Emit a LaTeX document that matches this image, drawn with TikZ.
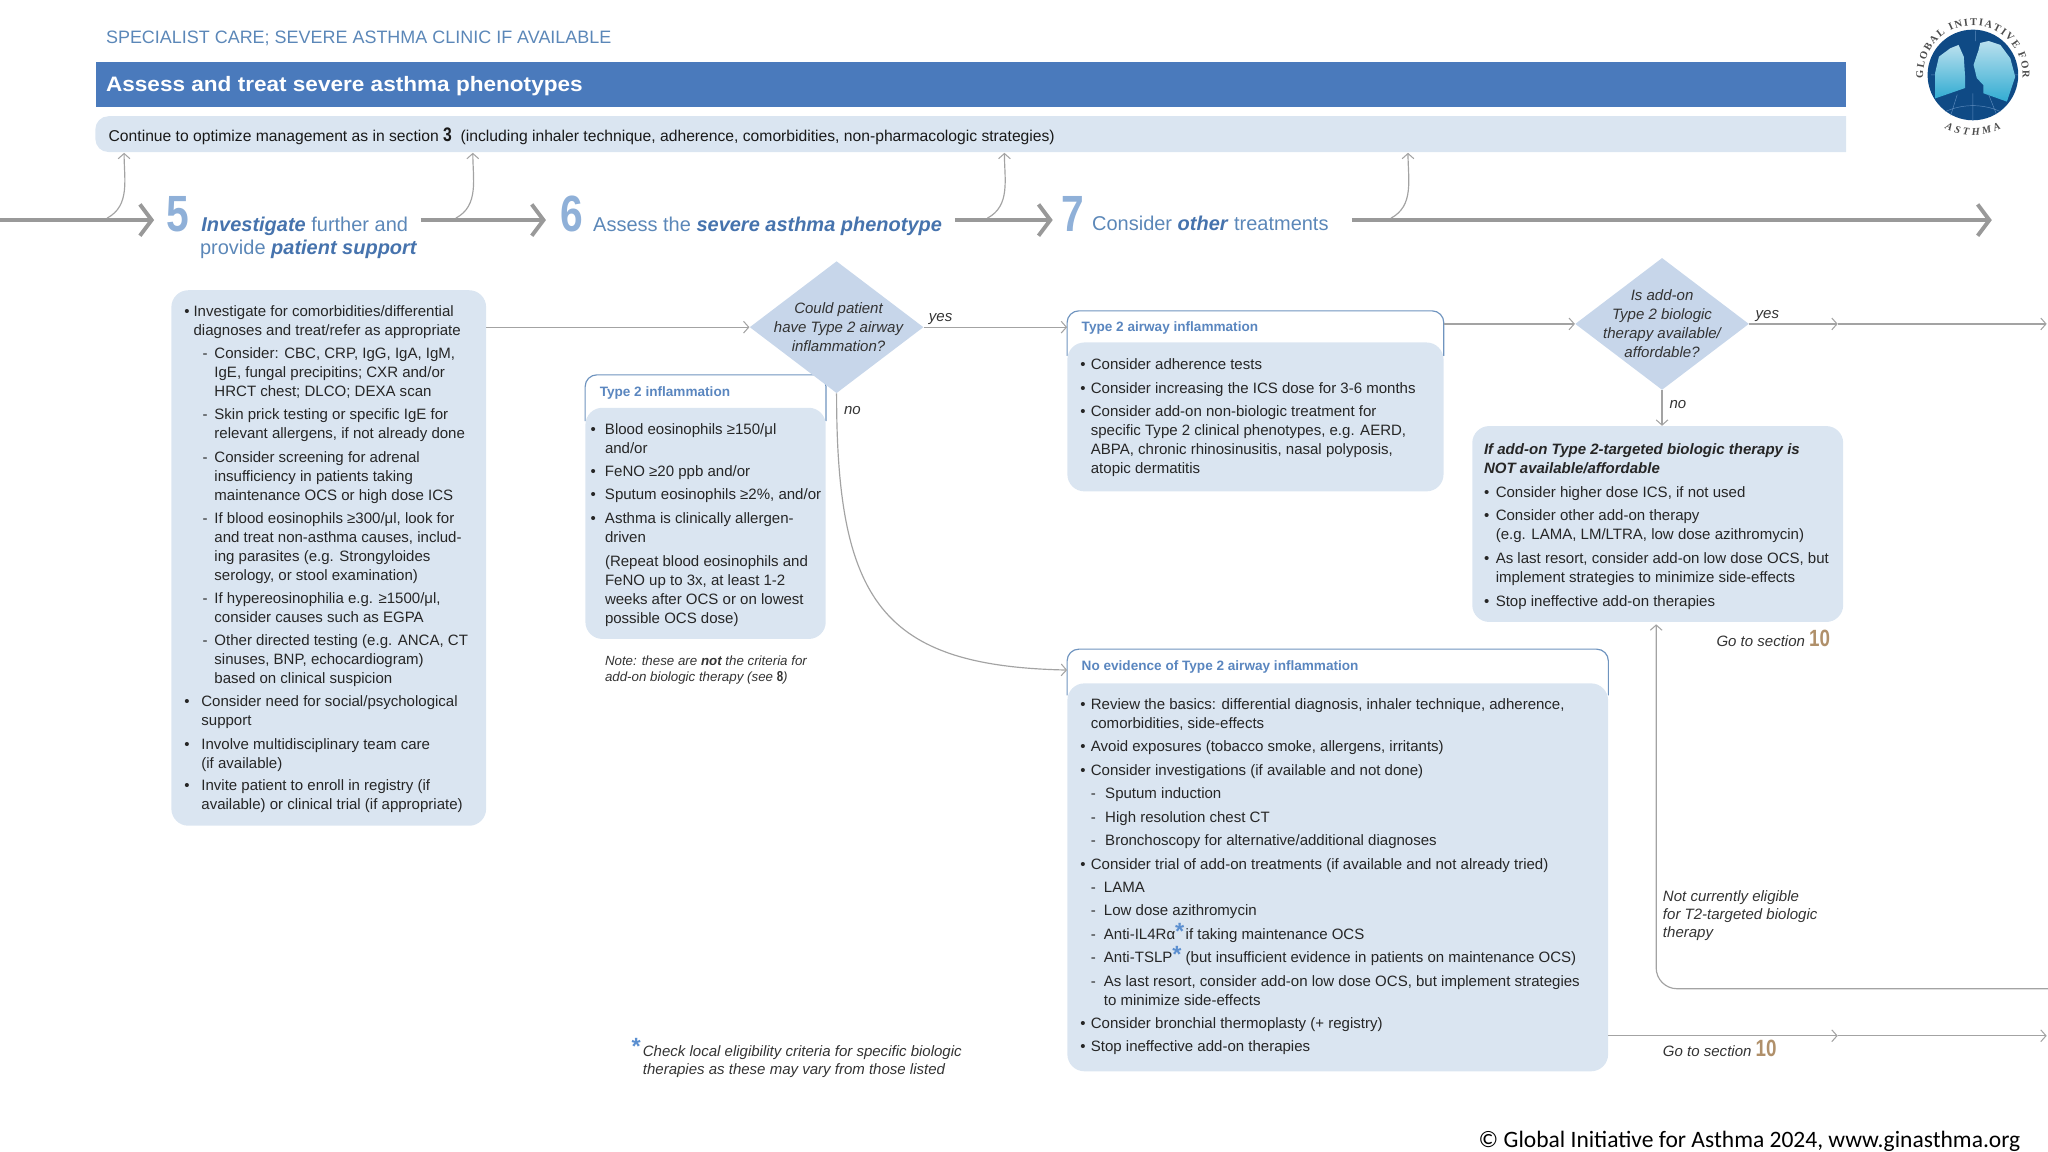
\documentclass[tikz,border=0pt]{standalone}
\usepackage{fontspec}
\setmainfont{Liberation Sans}
\newfontfamily\logofont{Liberation Serif}
\newfontfamily\footfont{Carlito}
\usetikzlibrary{arrows.meta,calc,positioning,shapes.geometric,decorations.text}
\definecolor{headblue}{HTML}{4A7ABC}
\definecolor{softblue}{HTML}{5B87B8}
\definecolor{deepblue}{HTML}{4673AD}
\definecolor{titleblue}{HTML}{5A86BF}
\definecolor{starblue}{HTML}{5B8FD0}
\definecolor{numblue}{HTML}{8FB0D8}
\definecolor{panelblue}{HTML}{DAE5F1}
\definecolor{diamondblue}{HTML}{C7D6EA}
\definecolor{framblue}{HTML}{6F94BF}
\definecolor{flowgrey}{HTML}{A3A3A3}
\definecolor{thickgrey}{HTML}{999999}
\definecolor{sectbrown}{HTML}{B0906A}
\definecolor{globeblue}{HTML}{0F4A85}
\definecolor{globeline}{HTML}{5C8BBD}
\definecolor{lungtop}{HTML}{B9E0EE}
\definecolor{lungbot}{HTML}{32ACD2}
\newcommand{\bodyfont}{\fontsize{11.5}{14.5}\selectfont}
\newcommand{\bull}[1]{\makebox[#1][l]{\textbullet}}
\newcommand{\dsh}[2]{\hspace*{#1}\makebox[#2][l]{-}}
\newcommand{\ind}[1]{\hspace*{#1}}
\newcommand{\hl}[1]{\textcolor{deepblue}{\textbf{\textit{#1}}}}
\newcommand{\sectnum}[2]{{\fontsize{#1}{#1}\selectfont\bfseries\scalebox{.8}[1]{#2}}}
\newcommand{\blustar}{\smash{\textcolor{starblue}{\fontsize{18}{18}\selectfont\bfseries *}}}
\tikzset{
	panel/.style={fill=panelblue, rounded corners=13pt, anchor=north west, inner sep=0pt},
	frame box/.style={anchor=north west, inner sep=0pt,
		prefix after command={\pgfextra{\let\fixname\tikzlastnode}},
		append after command={\pgfextra{\draw[draw=framblue, line width=.9pt, rounded corners=9pt]
			(\fixname.south west) -- (\fixname.north west) -- (\fixname.north east) -- (\fixname.south east);}}},
	frame title/.style={font=\fontsize{10.4}{13}\selectfont\bfseries, text=titleblue, anchor=west, inner sep=0pt},
	body/.style={font=\bodyfont, text=black!85, align=left, anchor=north west, inner sep=0pt},
	query/.style={diamond, fill=diamondblue, inner sep=0pt, minimum width=133pt, minimum height=101pt},
	query text/.style={font=\fontsize{11.5}{14.5}\selectfont\itshape, text=black!80, align=center, inner sep=0pt},
	step num/.style={font=\fontsize{39}{39}\selectfont\bfseries, text=numblue, inner sep=0pt},
	step text/.style={font=\fontsize{15.3}{18}\selectfont, text=softblue, align=left, anchor=west, inner sep=0pt},
	note/.style={font=\fontsize{11.5}{14}\selectfont\itshape, text=black!80, align=left, anchor=west, inner sep=0pt},
	small note/.style={font=\fontsize{10.2}{12}\selectfont\itshape, text=black!80, align=left, anchor=west, inner sep=0pt},
	flow/.style={draw=flowgrey, line width=.9pt, -{Straight Barb[length=4pt,width=9pt,line width=.8pt]}},
	main flow/.style={draw=thickgrey, line width=3.6pt, -{Straight Barb[length=9pt,width=24pt,line width=3pt]}},
}
\begin{document}
\begin{tikzpicture}[x=1pt, y=-1pt]
	\useasboundingbox (0,0) rectangle (1568,882);
	\node[font=\fontsize{13.75}{17}\selectfont, text=softblue, anchor=west, inner sep=0pt] (level) at (81,29.5) {SPECIALIST CARE; SEVERE ASTHMA CLINIC IF AVAILABLE};
	\node[fill=headblue, minimum width=1340pt, minimum height=35pt, anchor=north west, inner sep=0pt] (headbar) at (73,47) {};
	\node[font=\fontsize{16}{18}\selectfont\bfseries, text=white, anchor=west, inner sep=0pt] (headtext) at (81,66) {\scalebox{1.08}[1]{Assess and treat severe asthma phenotypes}};
	\node[minimum width=1340pt, minimum height=27pt, anchor=north west, inner sep=0pt] (optbar) at (73,89) {};
	\fill[panelblue] (optbar.north east) {[rounded corners=10pt] -- (optbar.north west) -- (optbar.south west)} -- (optbar.south east) -- cycle;
	\node[font=\fontsize{12}{14.5}\selectfont, text=black!90, anchor=west, inner sep=0pt] (opttext) at (83,104) {Continue to optimize management as in section \sectnum{15}{3}\ \ (including inhaler technique, adherence, comorbidities, non-pharmacologic strategies)};

	\node[step num] (stepfive) at (136.5,164) {\scalebox{.8}[1]{5}};
	\node[step num] (stepsix) at (438,164) {\scalebox{.8}[1]{6}};
	\node[step num] (stepseven) at (821.5,164) {\scalebox{.8}[1]{7}};
	\node[step text] (fivetext) at (153,182) {\hspace{1pt}\hl{Investigate} further and\\provide \hl{patient support}};
	\node[step text] (sixtext) at (454,173) {Assess the \hl{severe asthma phenotype}};
	\node[step text] (seventext) at (836,171) {Consider \hl{other} treatments};

	\foreach \nm/\xa/\xb in {a/0/118, b/322/418, c/731/806, d/1035/1525}
		\draw[main flow] (\xa,168.5) coordinate (flow\nm) -- (\xb,168.5) coordinate (flow\nm');
	\foreach \nm/\xa in {a/82, b/349, c/756, d/1065}
		\draw[flow] (\xa,167) coordinate (rise\nm) to[out=28,in=-90] (\xa+13,117) coordinate (rise\nm');

	% boxes
	\node[panel, minimum width=241pt, minimum height=410pt] (investbox) at (131,222) {};
	\node[frame box, minimum width=184pt, minimum height=35pt] (typetwoframe) at (448,287) {};
	\node[panel, minimum width=184pt, minimum height=177pt] (typetwobox) at (448,312) {};
	\node[frame box, minimum width=288pt, minimum height=34pt] (airwayframe) at (817,238) {};
	\node[panel, minimum width=288pt, minimum height=114pt] (airwaybox) at (817,262) {};
	\node[frame box, minimum width=414pt, minimum height=35pt] (noevframe) at (817,497) {};
	\node[panel, minimum width=414pt, minimum height=297pt] (noevbox) at (817,523) {};
	\node[panel, minimum width=284pt, minimum height=150pt] (lastbox) at (1127,326) {};
	\node[query] (querytwo) at (640.5,250.5) {};
	\node[query] (querybio) at (1272.5,248) {};

	% connectors
	\coordinate (noevin) at (817,513);
	\draw[flow] (investbox.east |- querytwo) -- (querytwo.west);
	\draw[flow] (querytwo.east) -- (querytwo.east -| airwayframe.west);
	\draw[flow] (querytwo.south) .. controls +(0,159) and +(-142,-3) .. (noevin);
	\draw[flow] (airwayframe.east |- querybio) -- (querybio.west);
	\draw[flow] (querybio.east) -- (1407,248) coordinate (yesmid);
	\draw[flow] (yesmid) -- (1567,248) coordinate (yesend);
	\draw[flow] (querybio.south) -- (querybio.south |- lastbox.north);
	\draw[flow] (noevbox.east |- 0,793) coordinate (noevout) -- (1407,793) coordinate (outmid);
	\draw[flow] (outmid) -- (1567,793) coordinate (outend);
	\draw[flow, rounded corners=16pt] (1568,757) coordinate (eligin) -- (1268,757) -- (1268,478) coordinate (eligout);

	% texts
	\node[body] (investtext) at (141,234) {\bull{7pt}Investigate for comorbidities/differential\\
		\ind{7pt}diagnoses and treat/refer as appropriate\\[3pt]
		\dsh{14pt}{9pt}Consider: CBC, CRP, IgG, IgA, IgM,\\
		\ind{23pt}IgE, fungal precipitins; CXR and/or\\
		\ind{23pt}HRCT chest; DLCO; DEXA scan\\[3.5pt]
		\dsh{14pt}{9pt}Skin prick testing or specific IgE for\\
		\ind{23pt}relevant allergens, if not already done\\[3.5pt]
		\dsh{14pt}{9pt}Consider screening for adrenal\\
		\ind{23pt}insufficiency in patients taking\\
		\ind{23pt}maintenance OCS or high dose ICS\\[3.5pt]
		\dsh{14pt}{9pt}If blood eosinophils ≥300/μl, look for\\
		\ind{23pt}and treat non-asthma causes, includ-\\
		\ind{23pt}ing parasites (e.g. Strongyloides\\
		\ind{23pt}serology, or stool examination)\\[3pt]
		\dsh{14pt}{9pt}If hypereosinophilia e.g. ≥1500/μl,\\
		\ind{23pt}consider causes such as EGPA\\[3pt]
		\dsh{14pt}{9pt}Other directed testing (e.g. ANCA, CT\\
		\ind{23pt}sinuses, BNP, echocardiogram)\\
		\ind{23pt}based on clinical suspicion\\[3.5pt]
		\bull{13pt}Consider need for social/psychological\\
		\ind{13pt}support\\[3.5pt]
		\bull{13pt}Involve multidisciplinary team care\\
		\ind{13pt}(if available)\\[3pt]
		\bull{13pt}Invite patient to enroll in registry (if\\
		\ind{13pt}available) or clinical trial (if appropriate)};
	\node[frame title] (typetwotitle) at (459,300.5) {Type 2 inflammation};
	\node[body] (typetwotext) at (452,324) {\bull{11pt}Blood eosinophils ≥150/μl\\
		\ind{11pt}and/or\\[3pt]
		\bull{11pt}FeNO ≥20 ppb and/or\\[3.5pt]
		\bull{11pt}Sputum eosinophils ≥2\%, and/or\\[3.5pt]
		\bull{11pt}Asthma is clinically allergen-\\
		\ind{11pt}driven\\[4pt]
		\ind{11pt}(Repeat blood eosinophils and\\
		\ind{11pt}FeNO up to 3x, at least 1-2\\
		\ind{11pt}weeks after OCS or on lowest\\
		\ind{11pt}possible OCS dose)};
	\node[small note] (typetwonote) at (463,513) {Note: these are \textbf{not} the criteria for\\add-on biologic therapy (see \textup{\sectnum{11}{8}})};
	\node[frame title] (airwaytitle) at (828,251) {Type 2 airway inflammation};
	\node[body] (airwaytext) at (827,274.5) {\bull{8pt}Consider adherence tests\\[3.5pt]
		\bull{8pt}Consider increasing the ICS dose for 3-6 months\\[3.5pt]
		\bull{8pt}Consider add-on non-biologic treatment for\\
		\ind{8pt}specific Type 2 clinical phenotypes, e.g. AERD,\\
		\ind{8pt}ABPA, chronic rhinosinusitis, nasal polyposis,\\
		\ind{8pt}atopic dermatitis};
	\node[frame title] (noevtitle) at (828,511) {No evidence of Type 2 airway inflammation};
	\node[body] (noevtext) at (827,534.5) {\bull{8pt}Review the basics: differential diagnosis, inhaler technique, adherence,\\
		\ind{8pt}comorbidities, side-effects\\[3.5pt]
		\bull{8pt}Avoid exposures (tobacco smoke, allergens, irritants)\\[3.5pt]
		\bull{8pt}Consider investigations (if available and not done)\\[3.5pt]
		\dsh{8pt}{11pt}Sputum induction\\[3.5pt]
		\dsh{8pt}{11pt}High resolution chest CT\\[3.5pt]
		\dsh{8pt}{11pt}Bronchoscopy for alternative/additional diagnoses\\[3.5pt]
		\bull{8pt}Consider trial of add-on treatments (if available and not already tried)\\[3pt]
		\dsh{8pt}{10pt}LAMA\\[3.5pt]
		\dsh{8pt}{10pt}Low dose azithromycin\\[3.5pt]
		\dsh{8pt}{10pt}Anti-IL4Rα\blustar\hspace{1pt}if taking maintenance OCS\\[3.5pt]
		\dsh{8pt}{10pt}Anti-TSLP\blustar\ (but insufficient evidence in patients on maintenance OCS)\\[3.5pt]
		\dsh{8pt}{10pt}As last resort, consider add-on low dose OCS, but implement strategies\\
		\ind{18pt}to minimize side-effects\\[3.5pt]
		\bull{8pt}Consider bronchial thermoplasty (+ registry)\\[3pt]
		\bull{8pt}Stop ineffective add-on therapies};
	\node[body] (lasttext) at (1136,339.5) {\textbf{\textit{If add-on Type 2-targeted biologic therapy is}}\\
		\textbf{\textit{NOT available/affordable}}\\[3.5pt]
		\bull{9pt}Consider higher dose ICS, if not used\\[3.5pt]
		\bull{9pt}Consider other add-on therapy\\
		\ind{9pt}(e.g. LAMA, LM/LTRA, low dose azithromycin)\\[4pt]
		\bull{9pt}As last resort, consider add-on low dose OCS, but\\
		\ind{9pt}implement strategies to minimize side-effects\\[3.5pt]
		\bull{9pt}Stop ineffective add-on therapies};

	\node[query text] (querytwotext) at ($(querytwo)+(1.5,0)$) {Could patient\\have Type 2 airway\\inflammation?};
	\node[query text] (querybiotext) at (querybio) {Is add-on\\Type 2 biologic\\therapy available/\\affordable?};
	\node[note] (yesone) at (711,244) {yes};
	\node[note] (noone) at (646,314) {no};
	\node[note] (yestwo) at (1344,242) {yes};
	\node[note] (notwo) at (1278,310) {no};
	\node[note] (gotoa) at (1314,489) {Go to section \textup{\textcolor{sectbrown}{\sectnum{18}{10}}}};
	\node[note] (gotob) at (1273,803) {Go to section \textup{\textcolor{sectbrown}{\sectnum{18}{10}}}};
	\node[note] (elignote) at (1273,701) {Not currently eligible\\for T2-targeted biologic\\therapy};
	\node[note] (starnote) at (492,813) {Check local eligibility criteria for specific biologic\\therapies as these may vary from those listed};
	\node[inner sep=0pt, font=\bodyfont] (starmark) at (487,807) {\blustar};
	\node[font=\footfont\fontsize{18}{21}\selectfont, anchor=east, inner sep=0pt] (copyline) at (1547,874) {© Global Initiative for Asthma 2024, www.ginasthma.org};

	% logo
	\begin{scope}[shift={(1510.5,57.4)}, x=1pt, y=1pt]
		\fill[globeblue] (0,0) circle (34.7);
		\shade[top color=lungtop, bottom color=lungbot]
			(-11,23) -- (-7,14) -- (-6,-1.3) -- (-6,-10) -- (-29,-18) -- (-29,1.3) -- (-26,14) -- (-17.4,20.4) -- cycle;
		\shade[top color=lungtop, bottom color=lungbot]
			(12,26) -- (5.6,24.5) -- (4.3,19) -- (.5,7.7) -- (3,-2.5) -- (8,-7.7) -- (8,-14) -- (26,-20.4) -- (32.4,-1.3) -- (28.6,12.8) -- (21,23) -- cycle;
		\draw[globeline, line width=.35pt] (-21,-28) .. controls (-8,-22) and (8,-22) .. (21,-28)
			(0,-14) -- (0,-34.5) (-12,-15) -- (-17,-31) (12,-15) -- (18,-30) (2,34) -- (2,26)
			(-32,0) -- (-29,0) (32.4,0) -- (34.5,0);
		\path[decorate, decoration={text along path, text={|\logofont\bfseries\fontsize{8}{9}\selectfont|GLOBAL INITIATIVE FOR}, text align={fit to path}, text color=black!70}] (184:38) arc (184:-4:38);
		\path[decorate, decoration={text along path, text={|\logofont\itshape\bfseries\fontsize{8}{9}\selectfont|ASTHMA}, text align={fit to path}, text color=black!70}] (-118:46) arc (-118:-62:46);
	\end{scope}
\end{tikzpicture}
\end{document}
